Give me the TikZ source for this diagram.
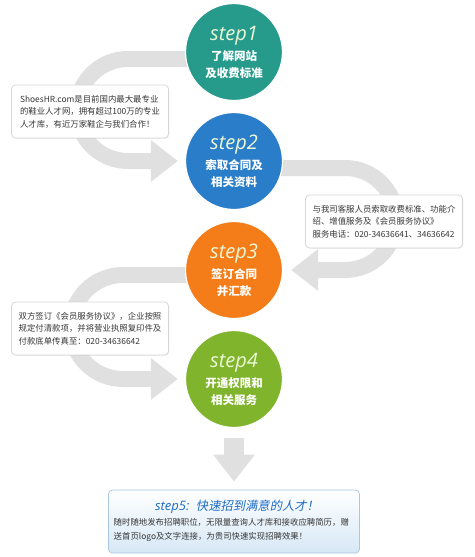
\documentclass[tikz,border=0pt]{standalone}
\usepackage{fontspec}
\newfontfamily\cjk{Noto Sans CJK SC}
\newfontfamily\cjkslant{Noto Sans CJK SC}[FakeSlant=0.2]
\newfontfamily\stepfont{Open Sans}
\usetikzlibrary{arrows.meta,backgrounds,shadows}

\definecolor{stepteal}{RGB}{38,155,140}
\definecolor{stepblue}{RGB}{42,125,200}
\definecolor{steporange}{RGB}{245,125,25}
\definecolor{stepgreen}{RGB}{128,180,45}
\definecolor{steplabel}{RGB}{236,248,214}
\definecolor{flowgray}{RGB}{224,224,224}
\definecolor{noteborder}{RGB}{214,214,214}
\definecolor{notetext}{RGB}{55,55,55}
\definecolor{finalborder}{RGB}{170,198,224}
\definecolor{finalfill}{RGB}{214,232,246}
\definecolor{finaltitle}{RGB}{28,108,196}

\newcommand{\stepname}[1]{{\stepfont\mdseries\itshape\fontsize{20}{20}\selectfont\color{steplabel}#1}}

\tikzset{every picture/.style={line width=0.75pt}}

\begin{document}
\begin{tikzpicture}[x=1pt,y=1pt,yscale=-1,xscale=1,
    stepball/.style={circle, minimum size=97pt, inner sep=0pt, draw=white, line width=1.2pt,
        align=center, text=white, font=\cjk\bfseries\fontsize{11.5}{17}\selectfont},
    notebox/.style={draw=noteborder, fill=white, rounded corners=4pt, minimum width=157pt,
        minimum height=53pt, inner sep=0pt, align=left, text=notetext,
        font=\cjk\fontsize{8.4}{12.5}\selectfont,
        drop shadow={opacity=0.12, shadow xshift=0.8pt, shadow yshift=-0.8pt}},
    flowband/.style={draw=flowgray, line width=16pt, -{Triangle[width=40pt,length=27pt]}}]
    \useasboundingbox (0,0) rectangle (474,557);

    % steps
    \node[stepball, fill=stepteal] (s1) at (234,52) {\stepname{step1}\\[3pt]了解网站\\及收费标准};
    \node[stepball, fill=stepblue] (s2) at (234,161) {\stepname{step2}\\[3pt]索取合同及\\相关资料};
    \node[stepball, fill=steporange] (s3) at (234,270) {\stepname{step3}\\[3pt]签订合同\\并汇款};
    \node[stepball, fill=stepgreen] (s4) at (234,379) {\stepname{step4}\\[3pt]开通权限和\\相关服务};

    % notes
    \node[notebox] (note1) at (90,111.5) {ShoesHR.com是目前国内最大最专业\\的鞋业人才网，拥有超过100万的专业\\人才库，有近万家鞋企与我们合作！};
    \node[notebox] (note2) at (384,221.5) {与我司客服人员索取收费标准、功能介\\绍、增值服务及《会员服务协议》\\服务电话：020-34636641、34636642};
    \node[notebox] (note3) at (90,328.5) {双方签订《会员服务协议》，企业按照\\规定付清款项，并将营业执照复印件及\\付款底单传真至：020-34636642};

    % step5
    \node[draw=finalborder, top color=white, bottom color=finalfill, rounded corners=4pt,
        minimum width=251pt, minimum height=63pt] (s5) at (234,521.5) {};
    \node[text=finaltitle] (s5title) at (237,507) {{\stepfont\itshape\fontsize{13}{13}\selectfont step5:}\ \ {\cjkslant\fontsize{12.3}{14}\selectfont 快速招到满意的人才！}};
    \node[anchor=west, align=left, text=notetext, font=\cjk\fontsize{8.4}{13.5}\selectfont] (s5text) at (110,530) {随时随地发布招聘职位，无限量查询人才库和接收应聘简历，赠\\送首页logo及文字连接，为贵司快速实现招聘效果！};

    % gray flow arrows
    \begin{scope}[on background layer]
        \draw[flowband, shorten >=7pt] (s1.center) ++(0,7) -- ++(-106,0) arc[start angle=270, end angle=90, radius=51] -- (s2.west);
        \draw[flowband, shorten >=8pt] (s2.center) ++(0,7) -- ++(111,0) arc[start angle=270, end angle=450, radius=51] -- (s3.east);
        \draw[flowband, shorten >=7pt] (s3.center) ++(0,5) -- ++(-111,0) arc[start angle=270, end angle=90, radius=52] -- (s4.west);
        \draw[flowband, line width=20pt, shorten <=10pt, shorten >=8pt] (s4.south) -- (s5.north);
    \end{scope}

\end{tikzpicture}
\end{document}
